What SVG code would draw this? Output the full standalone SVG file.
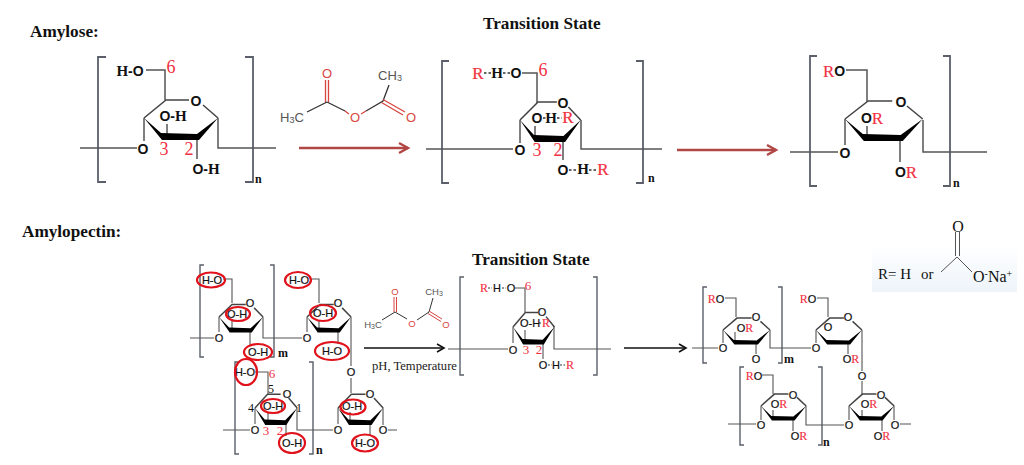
<svg xmlns="http://www.w3.org/2000/svg" width="1024" height="465" viewBox="0 0 1024 465">
<style>
text{font-family:"Liberation Serif","Times New Roman",serif}
.t{font-weight:bold;font-size:17.200px;fill:#111}
.o,.om{font-family:"Liberation Sans",Arial,sans-serif;text-anchor:middle;dominant-baseline:central;fill:#111}
.o{font-size:14px;font-weight:bold}
.om{font-size:11px;stroke:#111;stroke-width:.2}
.h{font-family:"Liberation Serif",serif;font-weight:bold;font-size:15px}
.q{font-family:"Liberation Serif",serif;fill:#f2303f;stroke:#f2303f;stroke-width:.15;font-weight:normal}
.qt{font-size:17px}
.qm{font-size:12px}
.r,.rm{fill:#f2303f;text-anchor:middle;dominant-baseline:central}
.r{font-size:17px;stroke:#f2303f;stroke-width:.2}
.rm{font-size:12px;stroke:#f2303f;stroke-width:.15}
.n,.nm{fill:#f2303f;text-anchor:middle;dominant-baseline:central}
.n{font-size:18px}
.nm{font-size:13px}
.k{fill:#111;text-anchor:middle;font-size:12px}
.l{fill:none;stroke:#555;stroke-width:1.5}
.lm{fill:none;stroke:#555;stroke-width:1.1}
.s{fill:none;stroke:#444;stroke-width:1.5;vector-effect:non-scaling-stroke}
.b{fill:none;stroke:#5a5f6a;stroke-width:1.8}
.bm{fill:none;stroke:#5a5f6a;stroke-width:1.4}
.c{fill:none;stroke:#333;stroke-width:1.3}
.cr{fill:none;stroke:#d8453f;stroke-width:1.3}
.c1{fill:none;stroke:#333;stroke-width:1}
.cr1{fill:none;stroke:#d8453f;stroke-width:1}
.e{fill:none;stroke:#e0121c;stroke-width:2.2}
.ch,.chm{font-family:"Liberation Sans",Arial,sans-serif;text-anchor:middle;dominant-baseline:central;fill:#555}
.ch{font-size:13px}
.chm{font-size:9.500px}
.ox,.oxm{font-family:"Liberation Sans",Arial,sans-serif;text-anchor:middle;dominant-baseline:central;fill:#d8453f}
.ox{font-size:13px}
.oxm{font-size:9.500px}
.mn{font-size:12px;font-weight:bold;fill:#111}
.red{fill:none;stroke:#b04744;stroke-width:2.6}
.blk{fill:none;stroke:#111;stroke-width:1.6}
.d{fill:none;stroke:#333;stroke-width:1.3;stroke-dasharray:2.500 2}
.dm{fill:none;stroke:#333;stroke-width:1;stroke-dasharray:2 1.500}
</style>
<defs>
<g id="ring">
<path class="s" d="M0 0L22-18H45M59-13L74 0"/>
<path fill="#000" d="M0 0L17 15L53 16L74 0L55 22H18Z"/>
</g>
<marker id="hr" markerUnits="userSpaceOnUse" markerWidth="12" markerHeight="14" refX="10" refY="6" orient="auto" overflow="visible">
<path d="M1 1L10 6L1 11" fill="none" stroke="#b04744" stroke-width="2.4"/>
</marker>
<marker id="hb" markerUnits="userSpaceOnUse" markerWidth="10" markerHeight="12" refX="8" refY="5" orient="auto" overflow="visible">
<path d="M1 1L8 5L1 9" fill="none" stroke="#111" stroke-width="1.6"/>
</marker>
<linearGradient id="bg" x1="0" y1="0" x2="0" y2="1"><stop offset="0" stop-color="#fff"/><stop offset="1" stop-color="#edf4fa"/></linearGradient>
</defs>
<rect width="1024" height="465" fill="#fff"/>

<g id="labels">
<text class="t" x="30" y="37">Amylose:</text>
<text class="t" x="483" y="29">Transition State</text>
<text class="t" x="22" y="237">Amylopectin:</text>
<text class="t" x="472" y="265">Transition State</text>
</g>

<g id="amylose-start">
<path class="b" d="M106 57H98V182H106M245 57H253V182H245"/>
<path class="l" d="M80 148H137M144 118V141M146 70H165V100M218 118V148H276M197 138V159M167 137V124"/>
<use href="#ring" transform="translate(144 118)"/>
<text class="o" x="130" y="71"><tspan class="h">H</tspan>-O</text>
<text class="o" x="173" y="116">O-<tspan class="h">H</tspan></text>
<text class="o" x="206" y="169">O-<tspan class="h">H</tspan></text>
<text class="o" x="143" y="149">O</text>
<text class="o" x="196" y="101">O</text>
<text class="n" x="171" y="67">6</text>
<text class="n" x="164" y="149">3</text>
<text class="n" x="189" y="149">2</text>
<text class="mn" x="255" y="183">n</text>
</g>

<g id="anhydride-top">
<path class="c" d="M307 112L327 102M327 102L345 111M366 111L383 101L389 85"/>
<path class="cr" d="M345 111L349 114M361 114L366 111M325.500 80V102M328.500 80V102M383 99.500L405 112M381.500 102.500L403 115"/>
<text class="ox" x="327" y="73">O</text>
<text class="ox" x="355" y="117">O</text>
<text class="ox" x="411" y="117">O</text>
<text class="ch" x="292" y="117">H<tspan font-size="9" dy="3">3</tspan><tspan dy="-3">C</tspan></text>
<text class="ch" x="390" y="75">CH<tspan font-size="9" dy="3">3</tspan></text>
</g>

<g id="amylose-ts">
<path class="b" d="M449 61H442V183H449M636 61H643V183H636"/>
<path class="l" d="M426 149H513M520 120V143M522 73H537V103M581 120V149H662M563 140V160M535 139V126"/>
<use href="#ring" transform="translate(520 120) scale(.82 1)"/>
<text class="o" x="497" y="73"><tspan class="h">H</tspan></text>
<text class="o" x="516" y="73">O</text>
<text class="o" x="563" y="103">O</text>
<text class="o" x="520" y="150">O</text>
<text class="o" x="537" y="118">O</text>
<text class="o" x="551" y="118"><tspan class="h">H</tspan></text>
<text class="o" x="563" y="170">O</text>
<text class="o" x="583" y="169"><tspan class="h">H</tspan></text>
<path class="d" d="M484 73H491M503 73H510M543 118H546M557 118H562M569 170H577M589 170H597"/>
<text class="r" x="478" y="73">R</text>
<text class="r" x="568" y="117">R</text>
<text class="r" x="603" y="169">R</text>
<text class="n" x="543" y="70">6</text>
<text class="n" x="537" y="150">3</text>
<text class="n" x="558" y="150">2</text>
<text class="mn" x="648" y="182">n</text>
</g>

<g id="amylose-product">
<path class="b" d="M817 56H810V186H817M943 56H950V186H943"/>
<path class="l" d="M790 152H838M845 119V145M846 70H867V102M923 120V152H987M900 140V162M867 140V126"/>
<use href="#ring" transform="translate(845 119) scale(1.050 1)"/>
<text class="o" x="834" y="71"><tspan class="q qt">R</tspan>O</text>
<text class="o" x="901" y="102">O</text>
<text class="o" x="845" y="153">O</text>
<text class="o" x="872" y="118">O<tspan class="q qt">R</tspan></text>
<text class="o" x="906" y="172">O<tspan class="q qt">R</tspan></text>
<text class="mn" x="953" y="187">n</text>
</g>

<g id="connectors">
<path class="red" d="M299 148L408 148" marker-end="url(#hr)"/>
<path class="red" d="M677 150L776 150" marker-end="url(#hr)"/>
<path class="blk" d="M364 348H444" marker-end="url(#hb)"/>
<path class="blk" d="M624 348H686" marker-end="url(#hb)"/>
</g>

<g id="amylopectin-a">
<path class="bm" d="M204 265H200V357H204M270 265H274V357H270"/>
<path class="lm" d="M190 338H214M219 317V332M223 279H232V303M263 317V338H302M250 329V345M232 329V320"/>
<use href="#ring" transform="translate(219 317) scale(.595 .7)"/>
<text class="om" x="212" y="280">H-O</text>
<text class="om" x="250" y="303">O</text>
<text class="om" x="219" y="338">O</text>
<text class="om" x="237" y="314">O-H</text>
<text class="om" x="258" y="352">O-H</text>
<ellipse class="e" cx="211" cy="280" rx="14" ry="7.500"/>
<ellipse class="e" cx="238" cy="314" rx="12" ry="7"/>
<ellipse class="e" cx="258" cy="352" rx="14" ry="8"/>
<text class="mn" x="278" y="357">m</text>
</g>

<g id="amylopectin-b">
<path class="lm" d="M307 317V332M312 279H319V303M351 317V366M338 329V344M319 329V320"/>
<use href="#ring" transform="translate(307 317) scale(.595 .7)"/>
<text class="om" x="299" y="280">H-O</text>
<text class="om" x="338" y="303">O</text>
<text class="om" x="307" y="338">O</text>
<text class="om" x="323" y="313">O-H</text>
<text class="om" x="332" y="351">H-O</text>
<text class="om" x="351" y="372">O</text>
<ellipse class="e" cx="298" cy="280" rx="13" ry="8"/>
<ellipse class="e" cx="323" cy="313" rx="13" ry="8"/>
<ellipse class="e" cx="332" cy="351" rx="17" ry="9"/>
</g>

<g id="amylopectin-c">
<path class="bm" d="M239 362H235V454H239M309 362H313V454H309"/>
<path class="lm" d="M223 430H250M255 408V424M255 372H268V394M297 408V430H333M286 422V436M268 421V412"/>
<use href="#ring" transform="translate(255 408) scale(.57 .77)"/>
<text class="om" x="245" y="372">H-O</text>
<text class="om" x="287" y="394">O</text>
<text class="om" x="255" y="430">O</text>
<text class="om" x="273" y="406">O-H</text>
<text class="om" x="292" y="443">O-H</text>
<ellipse class="e" cx="246" cy="372" rx="11" ry="13"/>
<ellipse class="e" cx="273" cy="406" rx="12" ry="7"/>
<ellipse class="e" cx="292" cy="443" rx="13" ry="10"/>
<text class="nm" x="272" y="373">6</text>
<text x="271" y="393" class="k">5</text>
<text x="251" y="412" class="k">4</text>
<text x="299" y="412" class="k">1</text>
<text class="nm" x="266" y="430">3</text>
<text class="nm" x="280" y="430">2</text>
<text class="mn" x="316" y="454">n</text>
</g>

<g id="amylopectin-d">
<path class="lm" d="M338 408V424M351 378V393M383 408V425M388 430H397M370 422V436M350 422V412"/>
<use href="#ring" transform="translate(338 408) scale(.61 .77)"/>
<text class="om" x="370" y="394">O</text>
<text class="om" x="338" y="430">O</text>
<text class="om" x="383" y="430">O</text>
<text class="om" x="352" y="406">O-H</text>
<text class="om" x="365" y="443">H-O</text>
<ellipse class="e" cx="353" cy="407" rx="12.500" ry="7.500"/>
<ellipse class="e" cx="365" cy="443" rx="13" ry="8.500"/>
</g>

<g id="anhydride-bottom">
<path class="c1" d="M382 320L395 312L407 319M417 320L429 312L433 298"/>
<path class="cr1" d="M394 297V312M396.500 297V312M429 311L442 319M428 313.500L441 321.500"/>
<text class="oxm" x="395" y="291">O</text>
<text class="oxm" x="412" y="323">O</text>
<text class="oxm" x="446" y="324">O</text>
<text class="chm" x="373" y="324">H<tspan font-size="7" dy="2">3</tspan><tspan dy="-2">C</tspan></text>
<text class="chm" x="434" y="291">CH<tspan font-size="7" dy="2">3</tspan></text>
<text x="372" y="369.500" font-size="12.600" fill="#222">pH, Temperature</text>
</g>

<g id="amylopectin-ts">
<path class="bm" d="M464 277H460V375H464M593 277H597V375H593"/>
<path class="lm" d="M448 349H508M513 327V343M515 288H525V312M554 326V349H611M543 340V359M525 340V330"/>
<use href="#ring" transform="translate(513 327) scale(.56 .8)"/>
<text class="om" x="497" y="288">H</text>
<text class="om" x="511" y="288">O</text>
<text class="om" x="542" y="312">O</text>
<text class="om" x="513" y="350">O</text>
<text class="om" x="530" y="323">O-H</text>
<text class="om" x="543" y="365">O</text>
<text class="om" x="556" y="365">H</text>
<path class="dm" d="M488 288H492M502 288H506M539 323H542M548 365H552M560 365H565"/>
<text class="rm" x="484" y="288">R</text>
<text class="rm" x="546" y="323">R</text>
<text class="rm" x="570" y="365">R</text>
<text class="nm" x="528" y="285">6</text>
<text class="nm" x="526" y="349">3</text>
<text class="nm" x="539" y="349">2</text>
</g>

<g id="product-a">
<path class="bm" d="M707 287H703V363H707M778 287H782V363H778"/>
<path class="lm" d="M692 348H718M723 330V343M725 298H736V317M770 330V348H811M756 342V354M735 341V332"/>
<use href="#ring" transform="translate(723 330) scale(.635 .66)"/>
<text class="om" x="716" y="299"><tspan class="q qm">R</tspan>O</text>
<text class="om" x="756" y="317">O</text>
<text class="om" x="723" y="348">O</text>
<text class="om" x="745" y="328">O<tspan class="q qm">R</tspan></text>
<text class="om" x="756" y="359">O</text>
<text class="mn" x="784" y="363">m</text>
</g>

<g id="product-b">
<path class="lm" d="M816 330V343M817 298H828V317M862 330V371M848 342V354"/>
<use href="#ring" transform="translate(816 330) scale(.62 .66)"/>
<text class="om" x="808" y="299"><tspan class="q qm">R</tspan>O</text>
<text class="om" x="848" y="317">O</text>
<text class="om" x="816" y="348">O</text>
<text class="om" x="828" y="327">O</text>
<text class="om" x="851" y="359">O<tspan class="q qm">R</tspan></text>
<text class="om" x="862" y="376">O</text>
</g>

<g id="product-c">
<path class="bm" d="M744 367H740V445H744M818 367H822V445H818"/>
<path class="lm" d="M728 424H756M761 406V420M762 375H773V394M806 406V425H844M793 418V431M773 418V410"/>
<use href="#ring" transform="translate(761 406) scale(.61 .66)"/>
<text class="om" x="754" y="376"><tspan class="q qm">R</tspan>O</text>
<text class="om" x="793" y="395">O</text>
<text class="om" x="761" y="425">O</text>
<text class="om" x="779" y="404">O<tspan class="q qm">R</tspan></text>
<text class="om" x="799" y="436">O<tspan class="q qm">R</tspan></text>
<text class="mn" x="823" y="446">n</text>
</g>

<g id="product-d">
<path class="lm" d="M849 406V420M862 381V394M894 406V420M900 424H911M882 418V431M862 418V410"/>
<use href="#ring" transform="translate(849 406) scale(.61 .66)"/>
<text class="om" x="881" y="395">O</text>
<text class="om" x="849" y="425">O</text>
<text class="om" x="895" y="425">O</text>
<text class="om" x="869" y="404">O<tspan class="q qm">R</tspan></text>
<text class="om" x="882" y="436">O<tspan class="q qm">R</tspan></text>
</g>

<g id="r-legend">
<rect x="872" y="245" width="145" height="47" fill="url(#bg)"/>
<path d="M955.500 232V256M959.500 232V256M957 257L941 272M957 257L972 272" fill="none" stroke="#555" stroke-width="1"/>
<text x="878" y="279" font-size="15" fill="#111">R= H</text>
<text x="921" y="279" font-size="15" fill="#111">or</text>
<text x="958" y="232" font-size="16" fill="#111" text-anchor="middle">O</text>
<text x="973" y="282" font-size="16" fill="#111">O<tspan font-size="10" dy="-5">-</tspan><tspan dy="5">Na</tspan><tspan font-size="10" dy="-5">+</tspan></text>
</g>
</svg>
